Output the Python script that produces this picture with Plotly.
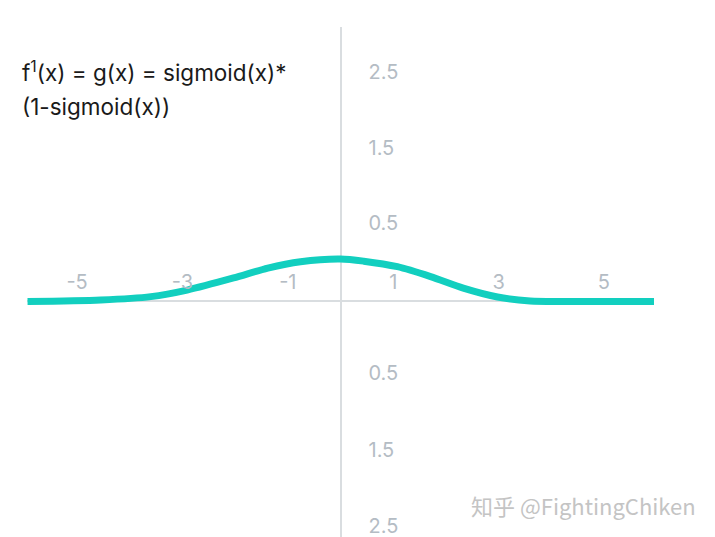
import plotly.graph_objects as go

# curve values
x_vals = [-5.94, -4.55, -3.60, -2.91, -2.03, -1.38, -0.76, 0.0, 0.44, 1.08, 1.71, 2.33, 2.98, 3.60, 4.23, 5.95]
y_vals = [0.0, 0.009, 0.029, 0.068, 0.140, 0.199, 0.237, 0.253, 0.240, 0.207, 0.148, 0.080, 0.027, 0.003, 0.0, 0.0]

x_tick_vals = [-5, -3, -1, 1, 3, 5]
x_tick_text = ["-5", "-3", "-1", "1", "3", "5"]
y_tick_vals = [1.368, 0.912, 0.4655, -0.4267, -0.8827, -1.339]
y_tick_text = ["2.5", "1.5", "0.5", "0.5", "1.5", "2.5"]

title_line1 = "f<sup>1</sup>(x) = g(x) = sigmoid(x)*"
title_line2 = "(1-sigmoid(x))"
watermark = "知乎 @FightingChiken"

W, H = 715, 537
tick_color = "#b4bcc4"
axis_color = "#d9dde0"

fig = go.Figure()
fig.add_trace(go.Scatter(
    x=x_vals, y=y_vals, mode="lines",
    line=dict(color="#12cfbf", width=7, shape="spline", smoothing=0.8),
    hoverinfo="skip", showlegend=False,
))

fig.update_layout(
    width=W, height=H,
    margin=dict(l=0, r=0, t=0, b=0),
    paper_bgcolor="white", plot_bgcolor="white",
    font=dict(family="Inter, Noto Sans, sans-serif", size=20, color="#222"),
    xaxis=dict(
        domain=[27 / W, 654 / W], range=[-5.95, 5.95],
        showgrid=False, zeroline=True, zerolinecolor=axis_color, zerolinewidth=1.5,
        showline=False, tickvals=x_tick_vals, ticktext=x_tick_text,
        side="top", anchor="free", position=(H - 301.5) / H,
        tickfont=dict(size=20, color=tick_color), ticks="", ticklabelstandoff=9,
        ticklabeloverflow="allow", fixedrange=True,
    ),
    yaxis=dict(
        domain=[0, (H - 27) / H], range=[-1.402, 1.634],
        showgrid=False, zeroline=True, zerolinecolor=axis_color, zerolinewidth=1.5,
        showline=False, tickvals=y_tick_vals, ticktext=y_tick_text,
        side="right", anchor="free", position=340.5 / W,
        tickfont=dict(size=20, color=tick_color), ticks="", ticklabelstandoff=27,
        ticklabeloverflow="allow", fixedrange=True,
    ),
    annotations=[
        dict(text=title_line1, x=20 / W, y=(H - 72) / H, xref="paper", yref="paper",
             xanchor="left", yanchor="middle", showarrow=False,
             font=dict(size=22.5, color="#1a1a1a")),
        dict(text=title_line2, x=20 / W, y=(H - 107) / H, xref="paper", yref="paper",
             xanchor="left", yanchor="middle", showarrow=False,
             font=dict(size=22.5, color="#1a1a1a")),
        dict(text=watermark, x=698 / W, y=(H - 505) / H, xref="paper", yref="paper",
             xanchor="right", yanchor="middle", showarrow=False,
             font=dict(size=22, color="#c4c4c4",
                       family="Noto Sans CJK SC, Noto Sans, sans-serif")),
    ],
)

fig.write_html("out.html", config={"displayModeBar": False},
               post_script="document.body.style.margin='0';")
